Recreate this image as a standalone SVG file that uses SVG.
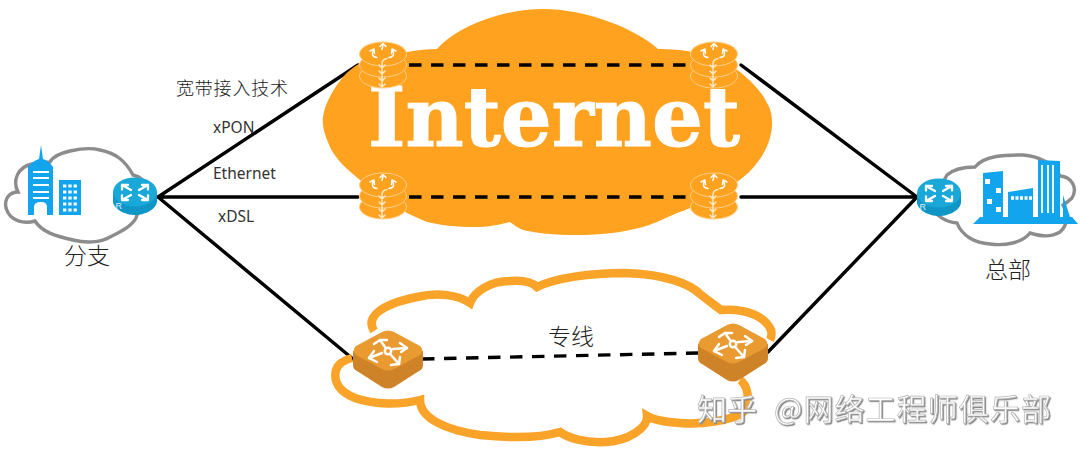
<svg xmlns="http://www.w3.org/2000/svg" width="1080" height="454" viewBox="0 0 1080 454">
<style>
.lbl{font-family:"Noto Sans","Noto Sans CJK SC",sans-serif;fill:#333;font-size:15.500px}
.cjk{font-family:"Noto Sans CJK SC",sans-serif;fill:#222;font-weight:300}
.solid{fill:none;stroke:#000;stroke-width:3.4;stroke-linecap:round}
.dash{fill:none;stroke:#000;stroke-width:3.4;stroke-dasharray:12.5 9.5}
.gray{fill:#fff;stroke:#8c8c8c;stroke-width:3.4}
.w{fill:none;stroke:#fff;stroke-linecap:round;stroke-linejoin:round}
.wm{font-family:"Noto Sans CJK SC",sans-serif;font-size:30px;fill:#fff;stroke:#b4b4b4;stroke-width:.7px}
</style>
<defs>
<filter id="sh" x="-5%" y="-20%" width="110%" height="140%"><feDropShadow dx="1.2" dy="1.2" stdDeviation=".5" flood-color="#888"/></filter>
<g id="stack">
<ellipse cx="0" cy="11" rx="23.500" ry="12" fill="#FFA21F" stroke="#FFD08A" stroke-width="1"/>
<ellipse cx="0" cy="0" rx="23.500" ry="12" fill="#FFA21F" stroke="#FFD08A" stroke-width="1"/>
<ellipse cx="0" cy="-11" rx="23.500" ry="12" fill="#FFA21F" stroke="#FFD08A" stroke-width="1"/>
<g class="w" stroke-width="1.500">
<path d="M-1-15.500C-1-17 0-18 0-21M-3-18.500 0-21.500 3-18.500"/>
<path d="M-6-7.500C-11-8-12-12-9-15M-13-14-9-16-8.500-11.500"/>
<path d="M6-7.500C11-8 12-12 9-15M13-14 9-16 8.500-11.500"/>
<path d="M4-6.500C0-6-1-4-1-1V22M-4 6-1 9 2 6M-4 13-1 16 2 13M-4 19-1 22 2 19M-4 0-1 3 2 0" stroke="#FFE8C4"/>
</g>
</g>
<g id="rt">
<path d="M-22 0V9C-22 17-10 23 0 23S22 17 22 9V0Z" fill="#0F96C6"/>
<ellipse cx="0" cy="0" rx="22" ry="14.500" fill="#19A8D8"/>
<g class="w" stroke-width="2.300">
<path d="M-13-7-4-2M-13-7H-7M-13-7V-2.500"/>
<path d="M13-7 4-2M13-7H7M13-7V-2.500"/>
<path d="M-13 8-4 3M-13 8H-7M-13 8V3.500"/>
<path d="M13 8 4 3M13 8H7M13 8V3.500"/>
</g>
<text x="-19.500" y="17" font-family="'Liberation Sans',sans-serif" font-size="9" fill="#d8f0fa">R</text>
</g>
<g id="sw">
<path d="M-35 0V14Q-35 18-31 20L-6 36Q0 39 6 36L31 20Q35 18 35 14V0Z" fill="#CE8328"/>
<path d="M-32-5-6-19Q0-22 6-19L32-5Q37 0 32 4L6 18Q0 21-6 18L-32 4Q-37 0-32-5Z" fill="#E99A30"/>
<g class="w" stroke-width="2.500">
<circle cx="0" cy="0" r="3.200"/>
<path d="M-3-4-8-11M5-2 19-3M3 4 11 13M-6 2-19 7"/>
<path d="M-14-7-8-11-1-11M12-8 19-3 13 1M3 14 11 13 12 6M-14 0-19 7-11 11"/>
</g>
</g>
</defs>
<g id="connectors">
<path class="solid" d="M158 197 358 65M158 197H358M158 197 353 359"/>
<path class="solid" d="M741 65 917 197M741 197H917M768 352 917 197"/>
</g>
<g id="internet-cloud">
<path d="M437 49C455 28 500 9 543 9 585 9 635 28 658 49 680 49 715 52 740 72 752 82 762 92 767 103 775 115 775 140 757 163 752 170 745 176 737 182 720 195 700 205 677 213 662 220 650 225 643 227 620 233 600 235 577 235 555 235 535 233 523 230 518 228 514 225 510 222 495 226 485 227 477 227 455 227 440 225 427 222 420 219 413 216 407 213 390 204 375 192 360 180 345 168 335 158 330 147 325 135 322 128 323 117 325 102 335 87 343 77 348 71 354 67 360 63 375 57 390 54 407 52 418 50 428 49 437 49Z" fill="#FFA21F"/>
<text x="368" y="146" font-family="'DejaVu Serif',serif" font-weight="700" font-size="82" fill="#fff" stroke="#fff" stroke-width="1" textLength="372" lengthAdjust="spacingAndGlyphs">Internet</text>
</g>
<g id="dashes">
<path class="dash" d="M409 65H692M409 197H692"/>
<path class="dash" d="M422 359 698 353"/>
</g>
<g id="r1"><use href="#stack" x="383" y="65"/></g>
<g id="r2"><use href="#stack" x="714" y="65"/></g>
<g id="r3"><use href="#stack" x="383" y="196"/></g>
<g id="r4"><use href="#stack" x="714" y="196"/></g>
<g id="leased-cloud">
<path d="M374 331C366 318 378 305 417 297 438 292 458 295 470 303 474 292 490 281 510 281 522 280 532 282 537 287 555 278 590 273 625 273 665 274 690 284 700 294 710 302 716 306 721 310 745 308 765 316 771 330 772 334 772 336 770 340M740 380C748 385 750 400 745 410 738 420 700 425 680 423 665 422 652 419 647 416 648 428 628 441 605 442 585 443 568 438 560 432 540 438 510 438 480 435 445 430 420 418 420 400 400 405 375 405 355 398 340 392 333 382 336 370 338 364 344 360 352 358" fill="none" stroke="#F9A328" stroke-width="8.500"/>
<text class="cjk" x="548" y="345" font-size="23" textLength="46">专线</text>
</g>
<g id="s1"><use href="#sw" x="388" y="351"/></g>
<g id="s2"><use href="#sw" x="733" y="344"/></g>
<g id="branch">
<path class="gray" d="M50 162C55 152 85 146 100 150 115 153 125 160 133 175 138 176 145 180 150 190L137 215C135 225 120 232 110 237 100 243 85 243 73 240 55 236 42 232 35 221 25 224 10 222 6 208 4 198 10 192 18 192 12 180 18 167 32 164 38 163 45 162 50 162Z"/>
<path d="M28 215V167Q34 160 39 159L41 145 43 159Q48 160 53 167V215H47V207Q47 202 41 202 34 202 34 207V215Z" fill="#12A5EE"/>
<path d="M33 172H49M33 178H49M33 185H49M33 192H49M33 198H49" stroke="#fff" stroke-width="2" fill="none"/>
<rect x="59" y="180" width="22" height="35" fill="#12A5EE"/>
<path d="M63 186H77M63 192H77M63 198H77M63 204H77M63 210H77" stroke="#fff" stroke-width="3" stroke-dasharray="3.300 2" fill="none"/>
<use href="#rt" x="135" y="192"/>
<text class="cjk" x="64" y="264" font-size="23" textLength="46">分支</text>
</g>
<g id="hq">
<path class="gray" d="M947 175C955 168 965 167 975 167 985 155 1005 155 1023 155 1040 156 1055 165 1060 176 1072 177 1078 188 1072 198 1069 201 1066 203 1063 205 1068 215 1068 225 1060 232 1050 238 1040 236 1030 233 1022 243 1005 246 990 244 975 243 962 236 957 223 945 222 935 215 930 205Z"/>
<use href="#rt" x="939" y="193"/>
<path d="M973 224 980 217H983V173L1003 171V217H1008V192L1033 188V217H1038V160L1060 161V217H1063V195L1070 217H1072L1078 224Z" fill="#12A5EE"/>
<path d="M985 179h5v5h-5zM996 188h5v5h-5zM987 199h5v5h-5zM996 207h5v5h-5z" fill="#fff"/>
<path d="M1011 198H1032" stroke="#fff" stroke-width="3.500" stroke-dasharray="3 1.500"/>
<path d="M1042 165V213M1048 165V213M1053 165V213" stroke="#fff" stroke-width="1.800"/>
<text class="cjk" x="985" y="278" font-size="23" textLength="46">总部</text>
</g>
<g id="labels">
<text class="cjk" x="176" y="95" font-size="18" textLength="112">宽带接入技术</text>
<text class="lbl" x="213" y="133">xPON</text>
<text class="lbl" x="213" y="179">Ethernet</text>
<text class="lbl" x="218" y="222">xDSL</text>
</g>
<g id="watermark" filter="url(#sh)">
<text class="wm" x="697" y="420">知乎</text>
<text class="wm" x="774" y="420" textLength="277">@网络工程师俱乐部</text>
</g>
</svg>
